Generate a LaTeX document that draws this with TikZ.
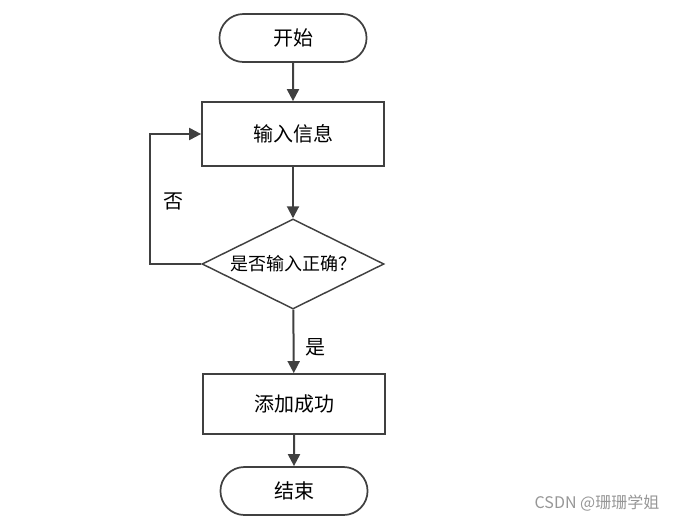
\documentclass[tikz,border=0pt]{standalone}
\usepackage{fontspec}
\setmainfont{Noto Sans CJK SC}
\usetikzlibrary{positioning, arrows.meta, shapes.geometric, shapes.misc}
\definecolor{flowgray}{RGB}{64,64,64}
\definecolor{markgray}{RGB}{150,150,150}

\begin{document}
\begin{tikzpicture}[x=0.75pt, y=-0.75pt,
        termbox/.style={rounded rectangle, draw=flowgray, line width=1.3pt, minimum width=117pt, minimum height=36pt, font=\fontsize{15}{18}\selectfont},
        procbox/.style={rectangle, draw=flowgray, line width=1.3pt, minimum width=136.5pt, minimum height=#1, font=\fontsize{15}{18}\selectfont},
        decbox/.style={diamond, draw=flowgray, line width=1.1pt, minimum width=136.5pt, minimum height=67.5pt, aspect=2, inner sep=0pt, font=\fontsize{13.5}{16}\selectfont},
        arrflow/.style={-{Triangle[length=9pt, width=9pt]}, line width=1.5pt, flowgray},
        yesno/.style={font=\fontsize{15}{18}\selectfont}
    ]
        \useasboundingbox (0,0) rectangle (682,522);

        \node[termbox] (start) at (293,38) {开始};
        \node[procbox=48pt] (input) at (293,134) {输入信息};
        \node[decbox] (check) at (293,264) {是否输入正确？};
        \node[procbox=45pt] (done) at (294,404) {添加成功};
        \node[termbox] (stop) at (294,491) {结束};
        \coordinate (loopb) at (150,264);
        \coordinate (loopt) at (150,134);

        \draw[arrflow] (start) -- (input);
        \draw[arrflow] (input) -- (check);
        \draw[arrflow] (check) -- (done);
        \draw[arrflow] (done) -- (stop);
        \draw[arrflow] (check.west) -- (loopb) -- (loopt) -- (input.west);

        \node[yesno] (nolbl) at (173,201) {否};
        \node[yesno] (yeslbl) at (315,347) {是};

        \node[font=\fontsize{12}{14}\selectfont, text=markgray] (mark) at (597,503) {CSDN @珊珊学姐};
    \end{tikzpicture}
\end{document}
